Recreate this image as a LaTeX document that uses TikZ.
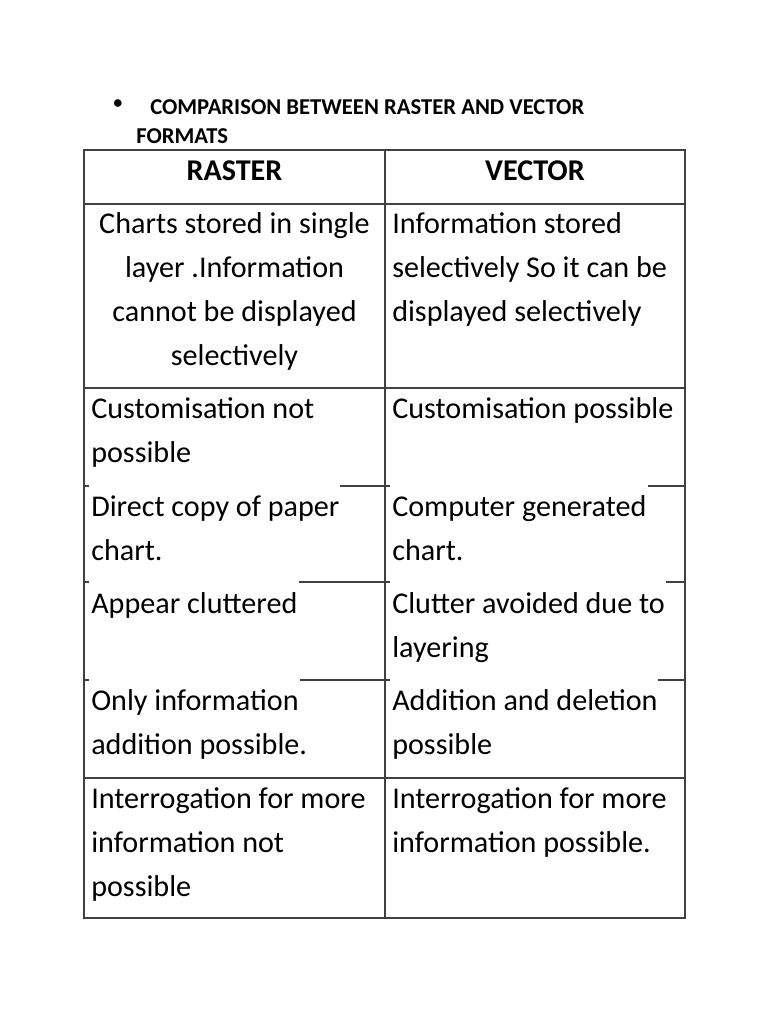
\documentclass[tikz,border=0pt]{standalone}
\usepackage{fontspec}
\setmainfont{Carlito}
\begin{document}
\begin{tikzpicture}[x=0.75pt,y=-0.75pt,
  rule/.style={draw=black!75,line width=0.8pt},
  cellt/.style={anchor=base west,inner sep=0pt,font=\fontsize{22.6pt}{33pt}\selectfont},
  head/.style={inner sep=0pt,anchor=base,font=\bfseries\fontsize{22.6pt}{33pt}\selectfont}]
\useasboundingbox[fill=white] (0,0) rectangle (768,1024);
% title
\node[inner sep=0pt,font=\fontsize{16pt}{16pt}\selectfont] (bul) at (118,105) {•};
\node[anchor=base west,inner sep=0pt,font=\bfseries\fontsize{17pt}{17pt}\selectfont] (t1) at (150,114) {COMPARISON BETWEEN RASTER AND VECTOR};
\node[anchor=base west,inner sep=0pt,font=\bfseries\fontsize{17pt}{17pt}\selectfont] (t2) at (136,143) {FORMATS};
% frame
\coordinate (tl) at (84,150); \coordinate (tr) at (685,150);
\coordinate (bl) at (84,918); \coordinate (br) at (685,918);
\coordinate (mt) at (385,150); \coordinate (mb) at (385,918);
\draw[rule] (tl) rectangle (br);
\draw[rule] (mt) -- (mb);
\draw[rule] (84,204) -- (685,204);
\draw[rule] (84,388) -- (685,388);
\draw[rule] (84,778) -- (685,778);
% partial separators
\draw[rule] (84,486) -- (89,486) (340,486) -- (390,486) (648,486) -- (685,486);
\draw[rule] (84,582) -- (89,582) (299,582) -- (390,582) (666,582) -- (685,582);
\draw[rule] (84,680) -- (89,680) (300,680) -- (390,680) (658,680) -- (685,680);
% headers
\node[head] (hr) at (234.5,180) {RASTER};
\node[head] (hv) at (535,180) {VECTOR};
% cells
\node[cellt,anchor=base] (r1) at (234.5,233) {\vtop{\hsize=222pt\centering Charts stored in single\\ layer .Information\\ cannot be displayed\\ selectively\par}};
\node[cellt] (v1) at (392,233) {\vtop{\hsize=222pt\raggedright Information stored\\ selectively So it can be\\ displayed selectively\par}};
\node[cellt] (r2) at (91,418) {\vtop{\hsize=222pt\raggedright Customisation not\\ possible\par}};
\node[cellt] (v2) at (392,418) {\vtop{\hsize=222pt\raggedright Customisation possible\par}};
\node[cellt] (r3) at (91,516) {\vtop{\hsize=222pt\raggedright Direct copy of paper\\ chart.\par}};
\node[cellt] (v3) at (392,516) {\vtop{\hsize=222pt\raggedright Computer generated\\ chart.\par}};
\node[cellt] (r4) at (91,613) {\vtop{\hsize=222pt\raggedright Appear cluttered\par}};
\node[cellt] (v4) at (392,613) {\vtop{\hsize=222pt\raggedright Clutter avoided due to\\ layering\par}};
\node[cellt] (r5) at (91,710) {\vtop{\hsize=222pt\raggedright Only information\\ addition possible.\par}};
\node[cellt] (v5) at (392,710) {\vtop{\hsize=222pt\raggedright Addition and deletion\\ possible\par}};
\node[cellt] (r6) at (91,808) {\vtop{\hsize=222pt\raggedright Interrogation for more\\ information not\\ possible\par}};
\node[cellt] (v6) at (392,808) {\vtop{\hsize=222pt\raggedright Interrogation for more\\ information possible.\par}};
\end{tikzpicture}
\end{document}
